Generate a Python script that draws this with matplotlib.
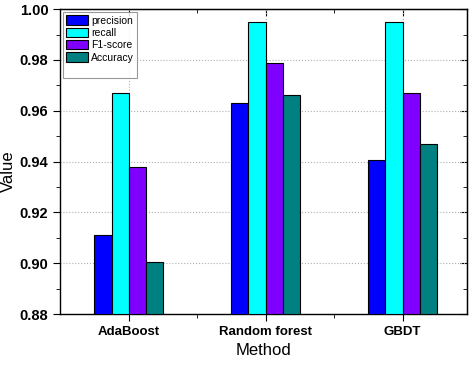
import numpy as np
import matplotlib
matplotlib.use('Agg')
import matplotlib.pyplot as plt
from matplotlib.ticker import MultipleLocator, FixedLocator
from matplotlib.patches import Rectangle

plt.rcParams['font.family'] = ['Liberation Sans', 'DejaVu Sans']

methods = ['AdaBoost', 'Random forest', 'GBDT']
metrics = ['precision', 'recall', 'F1-score', 'Accuracy']
precision = [0.911, 0.963, 0.9405]
recall = [0.967, 0.995, 0.995]
f1 = [0.938, 0.9788, 0.967]
accuracy = [0.9006, 0.9662, 0.947]
colors = ['#0000FF', '#00FFFF', '#8000FF', '#008080']

fig = plt.figure(figsize=(4.74, 3.66), dpi=100)
ax = fig.add_axes([0.127, 0.142, 0.858, 0.833])

x = np.arange(len(methods))
w = 0.125
for i, (vals, name) in enumerate(zip([precision, recall, f1, accuracy], metrics)):
    ax.bar(x + (i - 1.5) * w, np.array(vals) - 0.88, w, bottom=0.88,
           color=colors[i], edgecolor='black', linewidth=0.8, label=name, zorder=3)

ax.set_ylim(0.88, 1.0)
ax.set_xlim(-0.5, 2.47)
ax.set_xticks(x)
ax.set_xticklabels(methods, fontweight='bold', fontsize=9.5)
ax.xaxis.set_minor_locator(FixedLocator([0.5, 1.5]))
ax.yaxis.set_major_locator(MultipleLocator(0.02))
ax.yaxis.set_minor_locator(MultipleLocator(0.01))
ax.set_yticklabels(['%.2f' % v for v in ax.get_yticks()], fontweight='bold', fontsize=10.5)
ax.grid(True, which='major', linestyle=':', color='#b0b0b0', linewidth=0.8, zorder=0)

ax.tick_params(axis='both', which='both', direction='out', top=False, right=False)
ax.tick_params(which='major', length=5)
ax.tick_params(which='minor', length=3)
ax2 = ax.secondary_yaxis('right')
ax2.yaxis.set_major_locator(MultipleLocator(0.02))
ax2.yaxis.set_minor_locator(MultipleLocator(0.01))
ax2.tick_params(which='both', direction='in', labelright=False)
ax2.tick_params(which='major', length=5)
ax2.tick_params(which='minor', length=3)
ax3 = ax.secondary_xaxis('top')
ax3.set_xticks(x)
ax3.xaxis.set_minor_locator(FixedLocator([0.5, 1.5]))
ax3.tick_params(which='both', direction='in', labeltop=False)
ax3.tick_params(which='major', length=5)
ax3.tick_params(which='minor', length=3)

for s in ax.spines.values():
    s.set_linewidth(1.0)

ax.set_xlabel('Method', fontsize=12)
ax.set_ylabel('Value', fontsize=12)
ax.yaxis.set_label_coords(-0.11, 0.47)

handles, labels = ax.get_legend_handles_labels()
blank = Rectangle((0, 0), 1, 1, fill=False, edgecolor='none', visible=False)
leg = ax.legend(handles + [blank], labels + [''], loc='upper left', fontsize=7.5,
                frameon=True, fancybox=False, edgecolor='#808080',
                handlelength=2.1, handleheight=1.0, labelspacing=0.2,
                borderpad=0.3, handletextpad=0.3, borderaxespad=0.3)
leg.get_frame().set_linewidth(0.8)

fig.savefig('out.png', dpi=100)
